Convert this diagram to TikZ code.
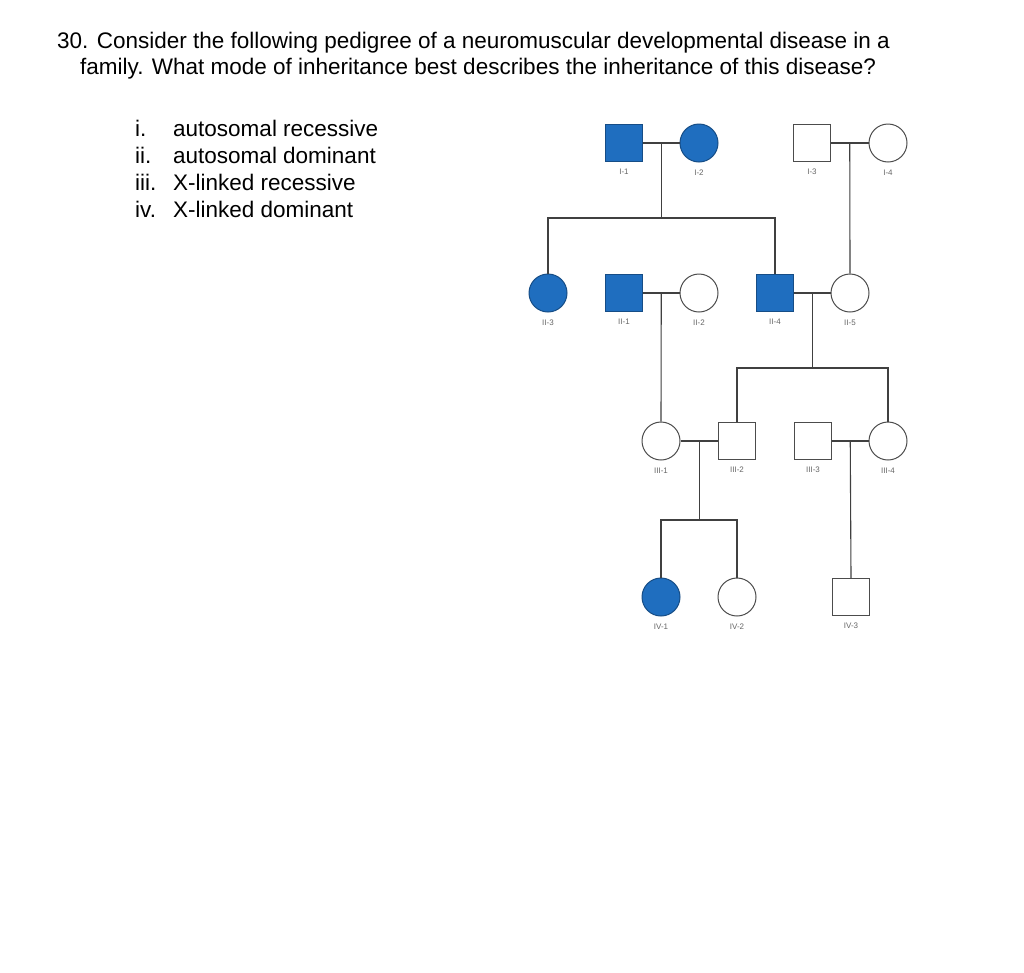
\documentclass[tikz,border=0pt]{standalone}
\usepackage{fontspec}
\setmainfont{Liberation Sans}
\definecolor{ped}{HTML}{1F6EBF}
\begin{document}
\begin{tikzpicture}[x=1pt,y=-1pt,
  male/.style={draw=black!70,line width=1pt,minimum size=37pt,inner sep=0pt,rectangle},
  female/.style={draw=black!70,line width=1pt,minimum size=38pt,inner sep=0pt,circle},
  aff/.style={fill=ped,draw=ped!70!black},
  lab/.style={font=\fontsize{8}{9}\selectfont,text=black!60},
  txt/.style={font=\fontsize{22.5}{26}\selectfont,anchor=base west,inner sep=0pt},
  ln/.style={line width=1.1pt,black!75}]
\useasboundingbox (0,0) rectangle (1024,972);
\fill[white] (0,0) rectangle (1024,972);
\node[txt] (t1) at (57,48) {30. Consider the following pedigree of a neuromuscular developmental disease in a};
\node[txt] (t2) at (80,74) {family. What mode of inheritance best describes the inheritance of this disease?};
\foreach \n/\a/\b/\y in {o1/i./autosomal recessive/136,o2/ii./autosomal dominant/163,o3/iii./X-linked recessive/190,o4/iv./X-linked dominant/217}{
  \node[txt] (\n a) at (135,\y) {\a};
  \node[txt] (\n b) at (173,\y) {\b};
}
% gen I
\node[male,aff] (I1) at (624,143) {};
\node[female,aff] (I2) at (699,143) {};
\node[male] (I3) at (812,143) {};
\node[female] (I4) at (888,143) {};
% gen II
\node[female,aff] (II3) at (548,293) {};
\node[male,aff] (II1) at (624,293) {};
\node[female] (II2) at (699,293) {};
\node[male,aff] (II4) at (775,293) {};
\node[female] (II5) at (850,293) {};
% gen III
\node[female] (III1) at (661,441) {};
\node[male] (III2) at (737,441) {};
\node[male] (III3) at (813,441) {};
\node[female] (III4) at (888,441) {};
% gen IV
\node[female,aff] (IV1) at (661,597) {};
\node[female] (IV2) at (737,597) {};
\node[male] (IV3) at (851,597) {};
\foreach \n/\t in {I1/I-1,I2/I-2,I3/I-3,I4/I-4,II1/II-1,II2/II-2,II3/II-3,II4/II-4,II5/II-5,III1/III-1,III2/III-2,III3/III-3,III4/III-4,IV1/IV-1,IV2/IV-2,IV3/IV-3}
  \node[lab] (\n l) at ([yshift=-10pt]\n.south) {\t};
% couples
\foreach \a/\b/\m in {I1/I2/m1,I3/I4/m2,II1/II2/m3,II4/II5/m4,III1/III2/m5,III3/III4/m6}{
  \draw[ln] (\a.east) -- (\b.west) coordinate[pos=0.5] (\m);
}
\coordinate (s1) at (m1 |- 0,218);
\draw[ln] (m1) -- (s1);
\draw[ln] (II3.north) |- (s1) -| (II4.north);
\draw[ln] (m2) -- (II5.north);
\draw[ln] (m3) -- (III1.north);
\coordinate (s4) at (m4 |- 0,368);
\draw[ln] (m4) -- (s4);
\draw[ln] (III2.north) |- (s4) -| (III4.north);
\coordinate (s5) at (m5 |- 0,520);
\draw[ln] (m5) -- (s5);
\draw[ln] (IV1.north) |- (s5) -| (IV2.north);
\draw[ln] (m6) -- (IV3.north);
\end{tikzpicture}
\end{document}
